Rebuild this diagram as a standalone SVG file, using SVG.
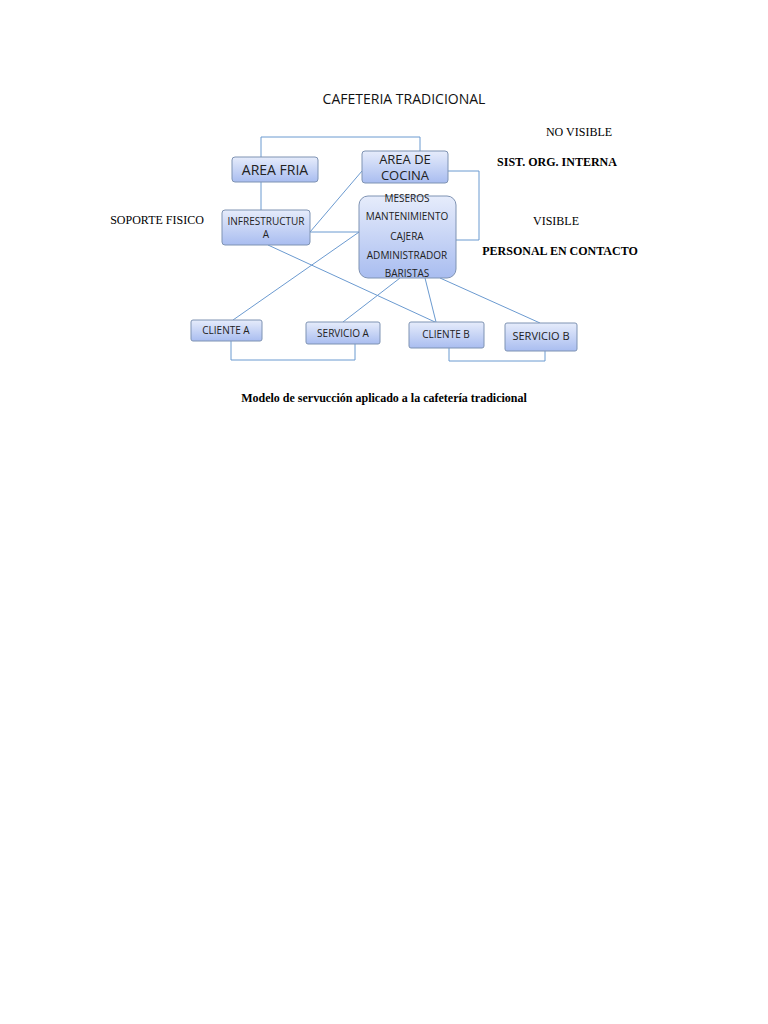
<svg xmlns="http://www.w3.org/2000/svg" width="768" height="1024" viewBox="0 0 768 1024">
<style>
.b{fill:url(#g);stroke:#7f93b3;stroke-width:1}
.t{font-family:"Open Sans","DejaVu Sans",sans-serif;fill:#222;text-anchor:middle}
.s{font-family:"Liberation Serif",serif;font-size:12px;fill:#000;text-anchor:middle}
.c{fill:none;stroke:#6b9ad0;stroke-width:1}
</style>
<defs><linearGradient id="g" x1="0" y1="0" x2="0" y2="1"><stop offset="0" stop-color="#e6ecfb"/><stop offset="1" stop-color="#a9bdf0"/></linearGradient></defs>
<rect width="768" height="1024" fill="#fff"/>
<text x="404" y="104" font-family="'Open Sans','DejaVu Sans',sans-serif" font-size="14" text-anchor="middle" fill="#111">CAFETERIA TRADICIONAL</text>
<text class="s" x="579" y="136">NO VISIBLE</text>
<text class="s" x="557" y="166" font-weight="bold">SIST. ORG. INTERNA</text>
<text class="s" x="157" y="224">SOPORTE FISICO</text>
<text class="s" x="556" y="225">VISIBLE</text>
<text class="s" x="560" y="255" font-weight="bold">PERSONAL EN CONTACTO</text>
<text class="s" x="384" y="402" font-weight="bold">Modelo de servucción aplicado a la cafetería tradicional</text>
<g id="connectors">
<path class="c" d="M261 157V137H420V151"/>
<path class="c" d="M261 182V210"/>
<path class="c" d="M448 171H479V240H456"/>
<path class="c" d="M310 232L362 171"/>
<path class="c" d="M310 232H359"/>
<path class="c" d="M362 230L233 320"/>
<path class="c" d="M268 245L435 322"/>
<path class="c" d="M400 278L343 322"/>
<path class="c" d="M425 278L436 322"/>
<path class="c" d="M440 278L540 323"/>
<path class="c" d="M231 341V360H355V344"/>
<path class="c" d="M449 348V361H545V351"/>
</g>
<g id="area-fria"><rect class="b" x="232" y="157" width="86" height="25" rx="3"/><text class="t" x="275" y="175" font-size="14">AREA FRIA</text></g>
<g id="area-cocina"><rect class="b" x="362" y="151" width="86" height="32" rx="3"/><text class="t" x="405" y="164" font-size="13">AREA DE</text><text class="t" x="405" y="180" font-size="13">COCINA</text></g>
<g id="infra"><rect class="b" x="222" y="210" width="88" height="35" rx="3"/><text class="t" x="266" y="225" font-size="10">INFRESTRUCTUR</text><text class="t" x="266" y="238" font-size="10">A</text></g>
<g id="personal"><rect class="b" x="359" y="196" width="97" height="82" rx="9"/>
<text class="t" font-size="10"><tspan x="407" y="202">MESEROS</tspan><tspan x="407" y="220">MANTENIMIENTO</tspan><tspan x="407" y="240">CAJERA</tspan><tspan x="407" y="259">ADMINISTRADOR</tspan><tspan x="407" y="277">BARISTAS</tspan></text></g>
<g id="cliente-a"><rect class="b" x="191" y="320" width="71" height="21" rx="2"/><text class="t" x="226" y="334" font-size="10">CLIENTE  A</text></g>
<g id="servicio-a"><rect class="b" x="306" y="322" width="74" height="22" rx="2"/><text class="t" x="343" y="337" font-size="10">SERVICIO A</text></g>
<g id="cliente-b"><rect class="b" x="409" y="322" width="75" height="26" rx="2"/><text class="t" x="446" y="338" font-size="10">CLIENTE B</text></g>
<g id="servicio-b"><rect class="b" x="505" y="323" width="72" height="28" rx="2"/><text class="t" x="541" y="340" font-size="11">SERVICIO B</text></g>
</svg>
